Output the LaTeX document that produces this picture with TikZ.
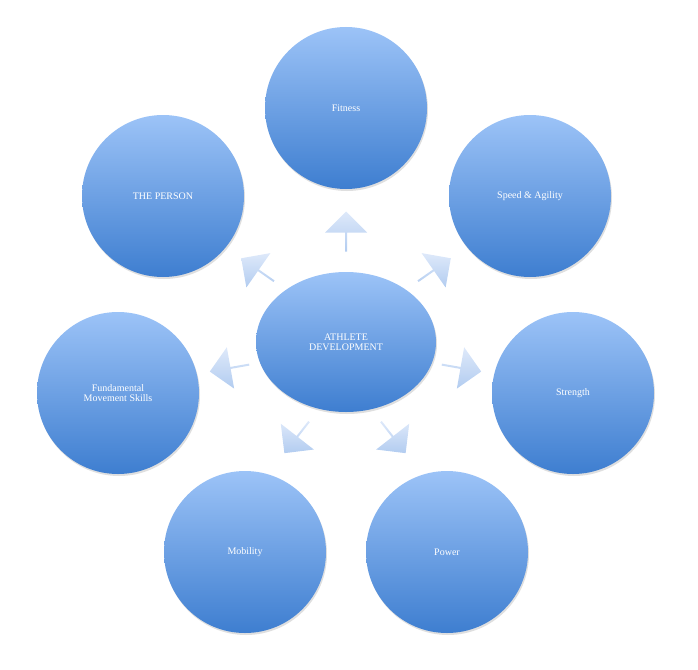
\documentclass[tikz,border=0pt]{standalone}
\usepackage{fontspec}
\setmainfont{Liberation Serif}
\usetikzlibrary{shapes.arrows,shapes.geometric,shadows}
\definecolor{ctop}{RGB}{156,195,247}
\definecolor{cbot}{RGB}{62,126,208}
\definecolor{atop}{RGB}{222,233,250}
\definecolor{abot}{RGB}{178,204,240}
\begin{document}
\begin{tikzpicture}[x=1pt,y=-1pt,
  circ/.style={circle,minimum size=162pt,inner sep=0pt,top color=ctop,bottom color=cbot,text=white,font=\fontsize{10}{12}\selectfont,align=center,drop shadow={opacity=0.25,shadow xshift=1pt,shadow yshift=-2pt}},
  arr/.style={single arrow,minimum height=40pt,minimum width=42pt,single arrow head extend=4pt,inner sep=0pt,top color=atop,bottom color=abot}]
\useasboundingbox (0,0) rectangle (698,669);
\node[circ,ellipse,minimum width=180pt,minimum height=140pt] (c) at (346,342) {ATHLETE\\[-2pt]DEVELOPMENT};
\node[circ] (fit) at (346,108) {Fitness};
\node[circ] (spd) at (530,196) {Speed \& Agility};
\node[circ] (str) at (573,393) {Strength};
\node[circ] (pow) at (447,552) {Power};
\node[circ] (mob) at (245,552) {Mobility};
\node[circ] (fms) at (118,393) {Fundamental\\[-2pt]Movement Skills};
\node[circ] (per) at (163,196) {THE PERSON};
\node[arr,rotate=90] (a1) at (346,232) {};
\node[arr,rotate=35] (a2) at (434,270) {};
\node[arr,rotate=-10] (a3) at (461,368) {};
\node[arr,rotate=-52] (a4) at (393,437) {};
\node[arr,rotate=-128] (a5) at (297,437) {};
\node[arr,rotate=190] (a6) at (230,368) {};
\node[arr,rotate=145] (a7) at (258,270) {};
\end{tikzpicture}
\end{document}
